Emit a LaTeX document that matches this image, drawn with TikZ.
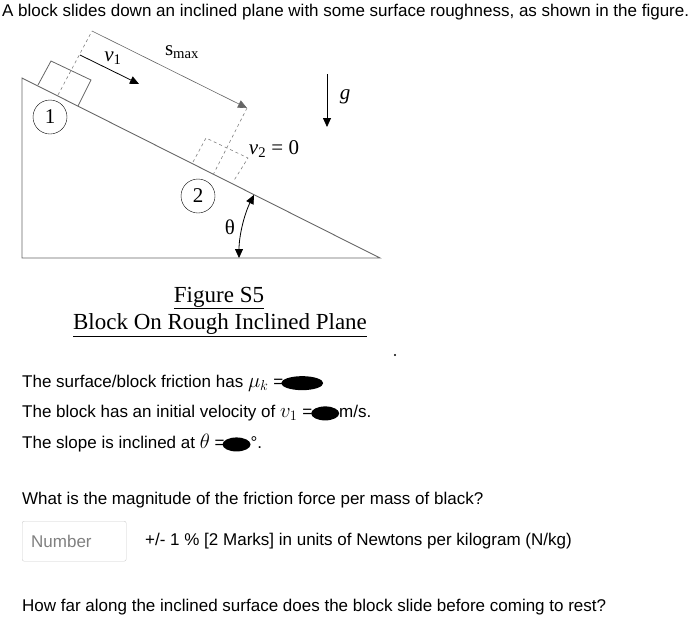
\documentclass[tikz,border=0pt]{standalone}
\usepackage{fontspec}
\setmainfont{Liberation Sans}
\newfontfamily\serif{Liberation Serif}
\usetikzlibrary{arrows.meta}
\newcommand{\blobmark}[2]{\tikz[baseline=-4pt]\fill[black] (0,0) ellipse (#1pt and #2pt);}
\newcommand{\largemath}[1]{{\fontsize{21}{22}\selectfont$#1$}}
\begin{document}
\begin{tikzpicture}[x=1pt,y=-1pt,
  txt/.style={anchor=west,inner sep=0pt,font=\fontsize{17}{19}\selectfont},
  fig/.style={font=\serif\fontsize{23}{25}\selectfont,inner sep=0pt},
  lbl/.style={font=\serif\fontsize{21}{23}\selectfont,inner sep=0pt},
  tip/.style={-{Triangle[length=9pt,width=8pt]}},
  dsh/.style={gray,dashed,line width=0.6pt},
  atip/.style={{Triangle[length=9pt,width=8pt]}-{Triangle[length=9pt,width=8pt]}}]
\useasboundingbox (0,0) rectangle (700,624);
\node[txt] (t0) at (2,12) {A block slides down an inclined plane with some surface roughness, as shown in the figure.};
% incline
\coordinate (A) at (22,78); \coordinate (B) at (22,258); \coordinate (C) at (380,258);
\draw[line width=0.9pt,gray!80!black] (A) -- (B) -- (C) -- cycle;
% block 1
\draw[line width=0.8pt,gray!80!black] (38,85) -- (51,61) -- (91,80) -- (78,106);
% block 2 dashed
\draw[dsh] (193,162) -- (206,138) -- (248,158) -- (233,182);
% s_max construction
\coordinate (p1) at (58,95); \coordinate (q1) at (92,31); \coordinate (q2) at (247,108); \coordinate (p2) at (213,175);
\draw[dsh] (p1) -- (q1);
\draw[dsh] (q2) -- (p2);
\draw[tip,gray!80!black,line width=0.6pt] (q1) -- (q2);
\node[lbl] (smax) at (182,52) {s\textsubscript{max}};
% v1
\coordinate (v1a) at (80,55); \coordinate (v1b) at (139,84);
\draw[tip,line width=0.8pt] (v1a) -- (v1b);
\node[lbl] (v1) at (113,58) {\textit{v}\textsubscript{1}};
\node[lbl] (v2) at (274,149) {\textit{v}\textsubscript{2} = 0};
% g
\coordinate (g1) at (327,74); \coordinate (g2) at (327,127);
\draw[tip,line width=0.8pt] (g1) -- (g2);
\node[lbl] (g) at (345,97) {\textit{g}};
% circles
\node[draw,circle,minimum size=34pt,inner sep=0pt,lbl] (c1) at (50,117) {1};
\node[draw,circle,minimum size=34pt,inner sep=0pt,lbl] (c2) at (198,196) {2};
% theta arc
\draw[atip,line width=0.8pt] (C) ++(206.6:141) arc[start angle=206.6,end angle=180,radius=141];
\node[lbl] (th) at (230,227) {θ};
% caption
\node[fig] (f1) at (219,298) {\underline{Figure S5}};
\node[fig] (f2) at (220,325) {\underline{Block On Rough Inclined Plane}};
\fill (395,355) circle (1.2);
% text
\node[txt] (l1) at (22,383) {The surface/block friction has \largemath{\mu_k} =\hspace{-2pt}\blobmark{21}{7}};
\node[txt] (l2) at (22,413) {The block has an initial velocity of \largemath{v_1} =\hspace{-1pt}\blobmark{14}{7}m/s.};
\node[txt] (l3) at (22,443) {The slope is inclined at \largemath{\theta} =\hspace{-2pt}\blobmark{14}{7}°.};
\node[txt] (q) at (22,500) {What is the magnitude of the friction force per mass of black?};
\node[draw=gray!40,rounded corners=2pt,minimum width=104pt,minimum height=40pt,anchor=north west,inner sep=0pt] (box) at (22,521) {};
\node[txt,text=gray] (num) at (31,541) {Number};
\node[txt] (tol) at (145,541) {+/- 1 \% [2 Marks] in units of Newtons per kilogram (N/kg)};
\node[txt] (q2t) at (22,607) {How far along the inclined surface does the block slide before coming to rest?};
\end{tikzpicture}
\end{document}
